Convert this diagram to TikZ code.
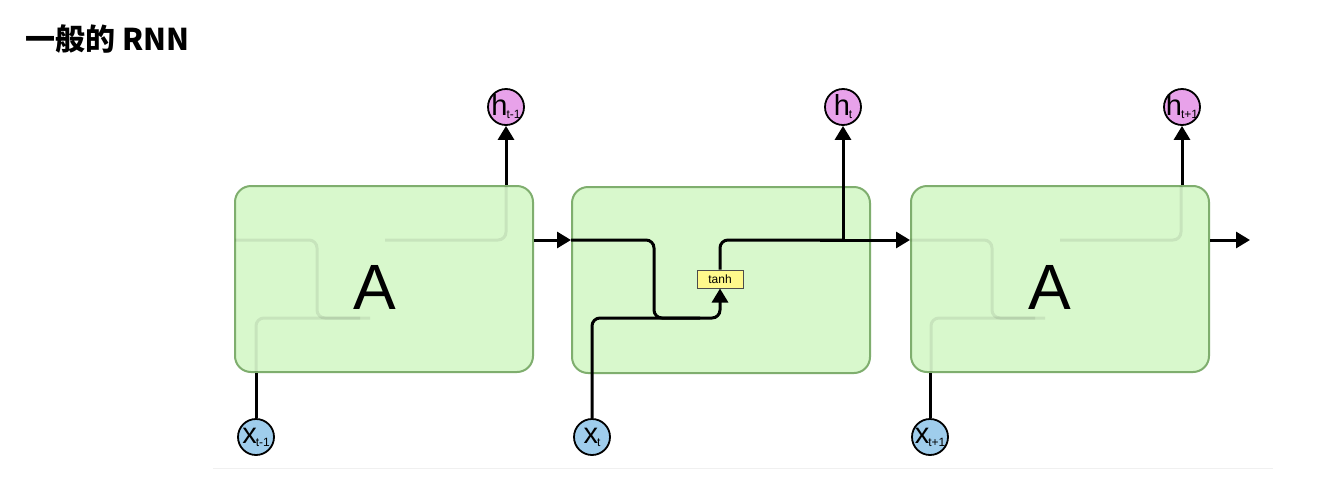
\documentclass[tikz,border=0pt]{standalone}
\usepackage{fontspec}
\setmainfont{Liberation Sans}
\newfontfamily\cjk{Noto Sans CJK SC}
\usetikzlibrary{arrows.meta}
\definecolor{cellfill}{HTML}{D8F8CC}
\definecolor{celldraw}{HTML}{7FAE6E}
\definecolor{hfill}{HTML}{E8A2EA}
\definecolor{xfill}{HTML}{9FCDEC}
\begin{document}
\begin{tikzpicture}[x=1pt,y=-1pt,
 cell/.style={draw=celldraw,line width=2pt,fill=cellfill,rounded corners=16pt,minimum width=298pt,minimum height=186pt,inner sep=0pt},
 hc/.style={circle,draw,line width=1.8pt,fill=hfill,minimum size=36pt,inner sep=0pt,font=\fontsize{29}{29}\selectfont},
 xc/.style={circle,draw,line width=1.8pt,fill=xfill,minimum size=36pt,inner sep=0pt,font=\fontsize{29}{29}\selectfont},
 wire/.style={line width=3pt,rounded corners=8pt},
 faint/.style={line width=3pt,rounded corners=8pt,draw=black,opacity=0.08},
 arr/.style={wire,-{Triangle[length=14pt,width=16pt]}}]
\useasboundingbox (0,0) rectangle (1319,477);
\fill[white] (0,0) rectangle (1319,477);
\node[anchor=west,font=\cjk\bfseries\fontsize{30}{30}\selectfont] (title) at (22,39) {一般的 RNN};
\draw[black!6,line width=1pt] (213,468) -- (1273,468);
\node[cell] (A1) at (384,279) {};
\node[cell] (A2) at (721,280) {};
\node[cell] (A3) at (1060,279) {};
\node[font=\fontsize{64}{64}\selectfont] (lA1) at (375,287) {A};
\node[font=\fontsize{64}{64}\selectfont] (lA3) at (1050,287) {A};
\newcommand\lbl[2]{\makebox[0pt]{#1\kern-1pt\raisebox{-3pt}{\fontsize{12}{12}\selectfont #2}}}
\node[hc] (h1) at (506,107) {\lbl{h}{t-1}};
\node[hc] (h2) at (843,107) {\lbl{h}{t}};
\node[hc] (h3) at (1182,107) {\lbl{h}{t+1}};
\node[xc] (x1) at (256,437) {\lbl{x}{t-1}};
\node[xc] (x2) at (592,437) {\lbl{x}{t}};
\node[xc] (x3) at (930,437) {\lbl{x}{t+1}};
\node[draw=black!70,fill=yellow!45,line width=1pt,minimum width=46pt,minimum height=18pt,inner sep=0pt,font=\fontsize{12}{12}\selectfont] (tanh) at (720,279) {tanh};
% faint internals
\foreach \o in {0,675}{
 \draw[faint] (235+\o,240) -- (317+\o,240) -- (317+\o,318) -- (360+\o,318);
 \draw[faint] (256+\o,372) -- (256+\o,318) -- (370+\o,318);
 \draw[faint] (385+\o,240) -- (506+\o,240) -- (506+\o,186);
}
% left & right cells
\draw[arr] (A1.north -| h1) -- (h1);
\draw[arr] (A3.north -| h3) -- (h3);
\draw[wire] (x1) -- (x1 |- A1.south);
\draw[wire] (x3) -- (x3 |- A3.south);
\draw[arr] (A1.east |- 0,240) -- (A2.west |- 0,240);
\coordinate (out) at (1250,240);
\draw[arr] (A3.east |- 0,240) -- (out);
% middle cell
\draw[wire] (A2.west |- 0,240) -- (654,240) -- (654,318) -- (700,318);
\draw[arr] (x2) -- (592,318) -- (720,318) -- (tanh.south);
\draw[wire] (tanh.north) -- (720,240) -- (843,240);
\draw[arr] (843,240) -- (h2);
\draw[arr] (820,240) -- (A3.west |- 0,240);
\end{tikzpicture}
\end{document}
